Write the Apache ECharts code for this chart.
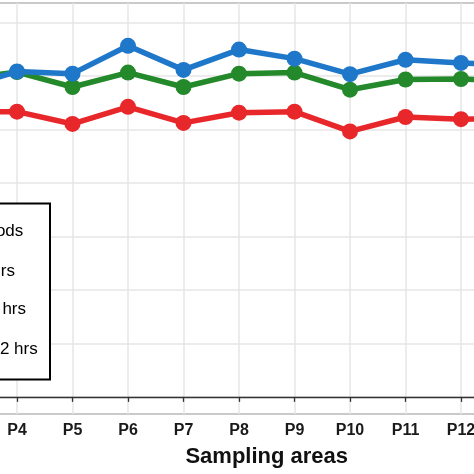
<!DOCTYPE html>
<html>
<head>
<meta charset="utf-8">
<script src="https://cdn.jsdelivr.net/npm/echarts@6/dist/echarts.min.js"></script>
<style>
html,body{margin:0;padding:0;background:#fff;}
#chart{width:474px;height:474px;}
</style>
</head>
<body>
<div id="chart"></div>
<script>
// Sampling areas (the picture shows P4..P12; the neighbours lie outside the cropped view)
const categories = ['P1','P2','P3','P4','P5','P6','P7','P8','P9','P10','P11','P12','P13','P14','P15','P16'];
const seriesNames = ['0 hrs', '24 hrs', '72 hrs'];
const legendTitle = 'Storage periods';
const blueValues  = [6.15, 6.00, 5.77, 6.08, 6.04, 6.56, 6.11, 6.49, 6.32, 6.03, 6.30, 6.24, 6.19, 6.28, 6.20, 6.25];
const greenValues = [5.95, 5.90, 5.94, 6.07, 5.79, 6.06, 5.79, 6.04, 6.06, 5.74, 5.93, 5.94, 5.89, 6.00, 5.90, 5.95];
const redValues   = [5.25, 5.20, 5.33, 5.33, 5.10, 5.42, 5.12, 5.31, 5.33, 4.96, 5.23, 5.19, 5.21, 5.30, 5.20, 5.25];

const colors = { blue: '#1f77c9', green: '#23892a', red: '#e8272b' };

const chart = echarts.init(document.getElementById('chart'), null, { renderer: 'canvas' });

function lineSeries(name, data, color, z) {
  return {
    name: name,
    type: 'line',
    data: data,
    z: z,
    symbol: 'circle',
    symbolSize: 16,
    lineStyle: { width: 5.5, color: color },
    itemStyle: { color: color },
    emphasis: { disabled: true },
    animation: false
  };
}

const option = {
  animation: false,
  backgroundColor: '#ffffff',
  grid: {
    left: -149.5,
    right: -209,
    top: 3,
    bottom: 60,
    show: true,
    borderColor: '#4d4d4d',
    borderWidth: 1.3,
    containLabel: false,
    outerBoundsMode: 'none'
  },
  xAxis: {
    type: 'category',
    data: categories,
    boundaryGap: false,
    name: 'Sampling areas',
    nameLocation: 'middle',
    nameGap: 32,
    nameTextStyle: { fontFamily: 'Liberation Sans, Arial, sans-serif', fontSize: 22, fontWeight: 'bold', color: '#111' },
    axisLine: { show: true, lineStyle: { color: '#333', width: 1.3 } },
    axisTick: { show: true, interval: 0, length: 5, lineStyle: { color: '#333', width: 1.3 } },
    axisLabel: { interval: 0, margin: 9, fontFamily: 'Liberation Sans, Arial, sans-serif', fontSize: 16, fontWeight: 'bold', color: '#1a1a1a' },
    splitLine: { show: true, interval: 0, lineStyle: { color: '#e6e6e6', width: 1.5 } }
  },
  yAxis: {
    type: 'value',
    min: -0.32,
    max: 7.36,
    splitNumber: 7,
    axisLine: { show: false },
    axisTick: { show: false },
    axisLabel: { show: false },
    splitLine: { show: true, lineStyle: { color: '#e6e6e6', width: 1.5 } }
  },
  series: [
    lineSeries(seriesNames[2], redValues, colors.red, 3),
    lineSeries(seriesNames[1], greenValues, colors.green, 4),
    lineSeries(seriesNames[0], blueValues, colors.blue, 5)
  ],
  graphic: [
    {
      type: 'rect',
      z: 100,
      shape: { x: -150, y: 203.5, width: 200, height: 176 },
      style: { fill: '#ffffff', stroke: '#000000', lineWidth: 2 }
    },
    {
      type: 'text', z: 101, x: 23.3, y: 231,
      style: { text: legendTitle, fill: '#000', font: '17px "Liberation Sans", Arial, sans-serif', textAlign: 'right', textVerticalAlign: 'middle' }
    },
    {
      type: 'text', z: 101, x: 15, y: 271,
      style: { text: seriesNames[0], fill: '#000', font: '17px "Liberation Sans", Arial, sans-serif', textAlign: 'right', textVerticalAlign: 'middle' }
    },
    {
      type: 'text', z: 101, x: 26, y: 309.5,
      style: { text: seriesNames[1], fill: '#000', font: '17px "Liberation Sans", Arial, sans-serif', textAlign: 'right', textVerticalAlign: 'middle' }
    },
    {
      type: 'text', z: 101, x: 37.7, y: 349.5,
      style: { text: seriesNames[2], fill: '#000', font: '17px "Liberation Sans", Arial, sans-serif', textAlign: 'right', textVerticalAlign: 'middle' }
    }
  ]
};

chart.setOption(option);
</script>
</body>
</html>
